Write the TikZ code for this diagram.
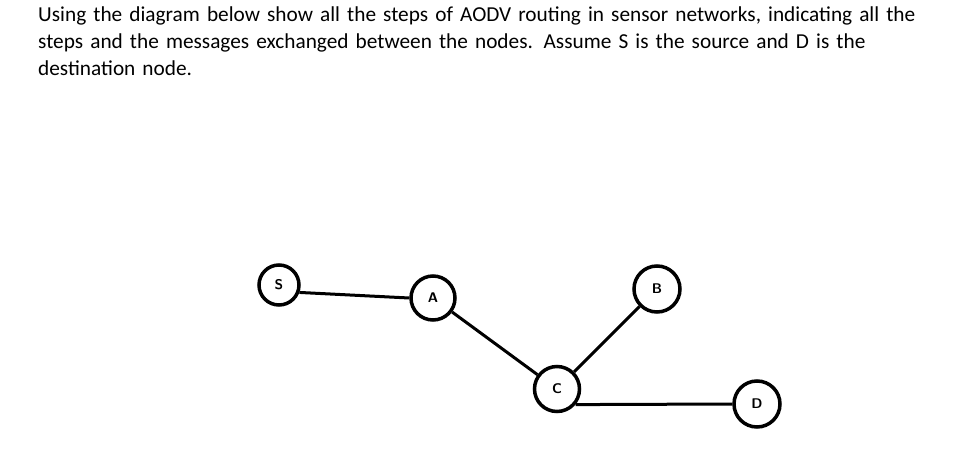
\documentclass[tikz,border=0pt]{standalone}
\usepackage{fontspec}
\setmainfont{Carlito}
\begin{document}
\begin{tikzpicture}[x=1pt,y=-1pt,
  nd/.style={circle,draw=black,line width=3.5pt,fill=white,inner sep=0pt,font=\sffamily\bfseries\fontsize{14}{14}\selectfont},
  ln/.style={line width=3pt}]
\useasboundingbox (0,0) rectangle (956,471);
\node[anchor=base west,font=\fontsize{21.3}{27}\selectfont,align=left,text width=920pt,inner sep=0pt] (txt) at (38,21)
{Using the diagram below show all the steps of AODV routing in sensor networks, indicating all the\\
steps and the messages exchanged between the nodes. Assume S is the source and D is the\\
destination node.};
\node[nd,minimum size=40pt] (S) at (279,285) {S};
\node[nd,minimum size=44pt] (A) at (433,298) {A};
\node[nd,minimum size=45pt] (C) at (557,389) {C};
\node[nd,minimum size=46pt] (B) at (657,289) {B};
\node[nd,minimum size=46pt] (D) at (757,404) {D};
\draw[ln] (S.-20) -- (A.west);
\draw[ln] (A) -- (C);
\draw[ln] (C) -- (B);
\draw[ln] (C.-40) -- (D.west);
\end{tikzpicture}
\end{document}
